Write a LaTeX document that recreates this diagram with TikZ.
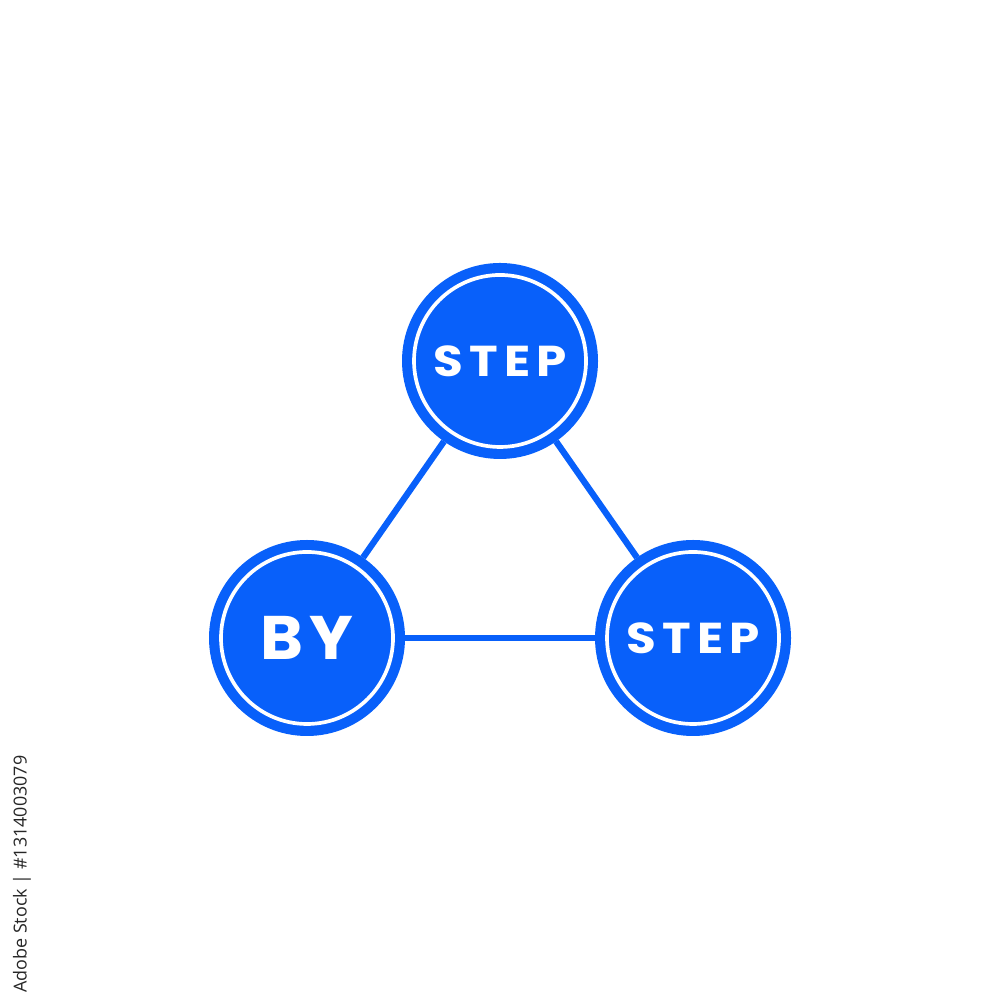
\documentclass[tikz,border=0pt]{standalone}
\usepackage{fontspec}
\usepackage{xcolor}
\usepackage{tikz}
\usetikzlibrary{calc}
\newfontfamily\stepfont[LetterSpace=13]{Poppins}
\newfontfamily\byfont[LetterSpace=10]{Poppins}
\newfontfamily\markfont{Open Sans}
\definecolor{stepblue}{RGB}{8,96,250}

\begin{document}
\begin{tikzpicture}

\def\RADIUS{0.98}
\def\RING{0.86}

\useasboundingbox (0,0) rectangle (10,10);

% circles
\node (top) at (5.00,6.39) [circle,fill=stepblue,minimum size=2*\RADIUS cm,inner sep=0pt,outer sep=0pt,text=white,font=\stepfont\bfseries\fontsize{12.3}{13}\selectfont] {\scalebox{1.12}[1]{STEP}};
\node (left) at (3.07,3.62) [circle,fill=stepblue,minimum size=2*\RADIUS cm,inner sep=0pt,outer sep=0pt,text=white,font=\byfont\bfseries\fontsize{17.5}{18}\selectfont] {\scalebox{1.06}[1]{BY}};
\node (right) at (6.93,3.62) [circle,fill=stepblue,minimum size=2*\RADIUS cm,inner sep=0pt,outer sep=0pt,text=white,font=\stepfont\bfseries\fontsize{12.3}{13}\selectfont] {\scalebox{1.12}[1]{STEP}};

% white rings
\draw[white,line width=1.05pt] (top.center) circle (\RING);
\draw[white,line width=1.05pt] (left.center) circle (\RING);
\draw[white,line width=1.05pt] (right.center) circle (\RING);

% links
\draw[stepblue,line width=1.8pt] (top) -- (left);
\draw[stepblue,line width=1.8pt] (top) -- (right);
\draw[stepblue,line width=1.8pt] (left) -- (right);

% side mark
\node (mark) at (0.22,2.45) [rotate=90,anchor=east,inner sep=0pt,text=black!85,font=\markfont\fontsize{5.1}{6}\selectfont] {Adobe Stock | \#1314003079};

\end{tikzpicture}
\end{document}
